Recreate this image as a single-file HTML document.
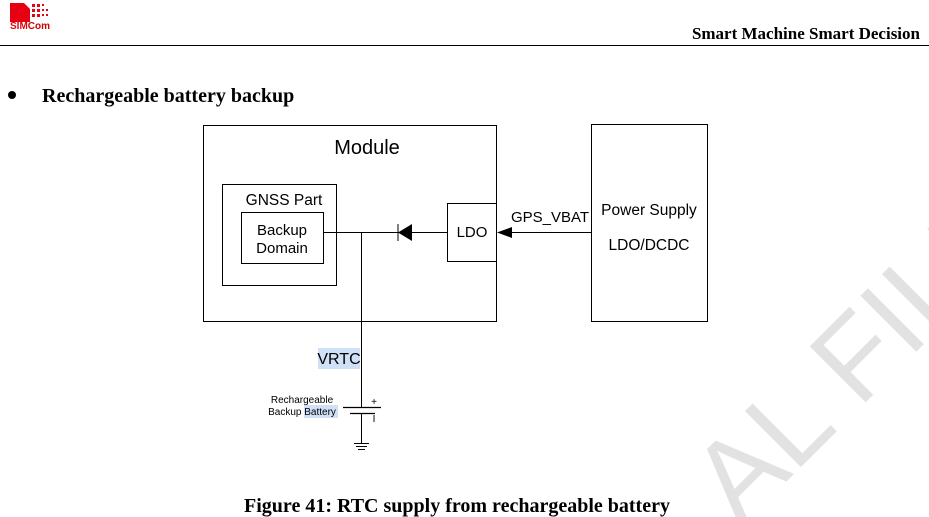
<!DOCTYPE html>
<html><head><meta charset="utf-8"><style>
body{margin:0;width:929px;height:517px;background:#fff;overflow:hidden;position:relative}
</style></head><body>
<svg width="929" height="517" xmlns="http://www.w3.org/2000/svg" style="position:absolute;left:0;top:0;overflow:hidden">
<g opacity="0.11" font-family="Liberation Sans, sans-serif" font-size="115" fill="#000">
<text x="740" y="528" transform="rotate(-45 740 528)">AL FILE</text>
</g>
<!-- logo -->
<path d="M10 3 h14 l6 6 v13 h-20z" fill="#e60012"/>
<g fill="#e60012">
<rect x="32" y="4" width="3" height="3"/><rect x="37" y="4" width="3" height="3"/><rect x="42" y="4" width="2" height="2"/>
<rect x="32" y="9" width="3" height="3"/><rect x="37" y="9" width="3" height="3"/><rect x="42" y="9" width="2" height="2"/><rect x="46" y="9" width="2" height="2"/>
<rect x="32" y="14" width="3" height="3"/><rect x="37" y="14" width="3" height="3"/><rect x="42" y="14" width="2" height="2"/><rect x="46" y="14" width="2" height="2"/>
</g>
<text x="10" y="29" font-family="Liberation Sans, sans-serif" font-weight="bold" font-size="10" fill="#e60012">SIM<tspan fill="#c00">Com</tspan></text>
<text x="920" y="39" text-anchor="end" font-family="Liberation Serif, serif" font-weight="bold" font-size="17">Smart Machine Smart Decision</text>
<line x1="0" y1="45.5" x2="929" y2="45.5" stroke="#000" stroke-width="1"/>
<circle cx="12" cy="95" r="4" fill="#000"/>
<text x="42" y="102" font-family="Liberation Serif, serif" font-weight="bold" font-size="20">Rechargeable battery backup</text>
<g fill="none" stroke="#000" stroke-width="1">
<rect x="203.5" y="125.5" width="293" height="196"/>
<rect x="222.5" y="184.5" width="114" height="101"/>
<rect x="241.5" y="212.5" width="82" height="51"/>
<rect x="447.5" y="203.5" width="49" height="58"/>
<rect x="591.5" y="124.5" width="116" height="197"/>
<line x1="323" y1="232.5" x2="447" y2="232.5"/>
<line x1="361.5" y1="232" x2="361.5" y2="407"/>
<line x1="361.5" y1="413" x2="361.5" y2="443"/>
<line x1="398" y1="224" x2="398" y2="241"/>
<line x1="505" y1="232.5" x2="591" y2="232.5"/>
<line x1="343" y1="407.5" x2="381" y2="407.5" stroke-width="1.3"/>
<line x1="350" y1="413.5" x2="375" y2="413.5" stroke-width="1.3"/>
<line x1="354" y1="443.5" x2="369" y2="443.5"/>
<line x1="356" y1="446.5" x2="367" y2="446.5"/>
<line x1="358" y1="449.5" x2="365" y2="449.5"/>
</g>
<polygon points="398,232.5 412,224 412,241" fill="#000"/>
<polygon points="497,232.5 512,227 512,238" fill="#000"/>
<g font-family="Liberation Sans, sans-serif" fill="#000">
<text x="367" y="154" text-anchor="middle" font-size="20">Module</text>
<text x="284" y="205" text-anchor="middle" font-size="15.5">GNSS Part</text>
<text x="282" y="235" text-anchor="middle" font-size="15">Backup</text>
<text x="282" y="253" text-anchor="middle" font-size="15">Domain</text>
<text x="472" y="237" text-anchor="middle" font-size="15">LDO</text>
<text x="550" y="222" text-anchor="middle" font-size="15">GPS_VBAT</text>
<text x="649" y="215" text-anchor="middle" font-size="15.5">Power Supply</text>
<text x="649" y="250" text-anchor="middle" font-size="15.5">LDO/DCDC</text>
<rect x="318" y="348" width="42" height="21" fill="#cfe0f7"/>
<text x="339" y="364" text-anchor="middle" font-size="16">VRTC</text>
<rect x="304" y="405" width="34" height="13" fill="#cfe0f7"/>
<text x="302" y="403" text-anchor="middle" font-size="10">Rechargeable</text>
<text x="302" y="415" text-anchor="middle" font-size="10">Backup Battery</text>
<text x="374" y="405" text-anchor="middle" font-size="10">+</text>
<text x="374" y="422" text-anchor="middle" font-size="10">I</text>
</g>
<text x="457" y="512" text-anchor="middle" font-family="Liberation Serif, serif" font-weight="bold" font-size="20">Figure 41: RTC supply from rechargeable battery</text>
</svg>
</body></html>
